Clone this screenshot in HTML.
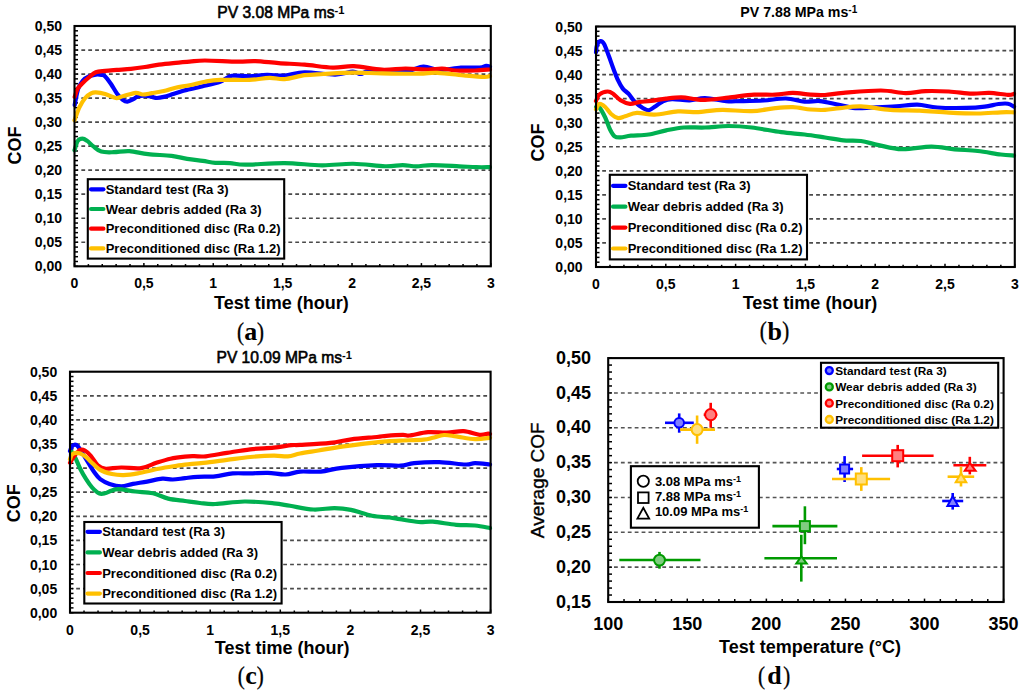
<!DOCTYPE html><html><head><meta charset="utf-8"><style>html,body{margin:0;padding:0;background:#fff;width:1024px;height:693px;overflow:hidden}svg{display:block}</style></head><body><svg width="1024" height="693" viewBox="0 0 1024 693">
<rect width="1024" height="693" fill="#fff"/>
<line x1="76.50" y1="242.27" x2="490.80" y2="242.27" stroke="#4a4a4a" stroke-width="1.7" stroke-dasharray="3.8 3.1" stroke-dashoffset="-4.85"/>
<line x1="76.50" y1="218.24" x2="490.80" y2="218.24" stroke="#4a4a4a" stroke-width="1.7" stroke-dasharray="3.8 3.1" stroke-dashoffset="-4.85"/>
<line x1="76.50" y1="194.21" x2="490.80" y2="194.21" stroke="#4a4a4a" stroke-width="1.7" stroke-dasharray="3.8 3.1" stroke-dashoffset="-4.85"/>
<line x1="76.50" y1="170.18" x2="490.80" y2="170.18" stroke="#4a4a4a" stroke-width="1.7" stroke-dasharray="3.8 3.1" stroke-dashoffset="-4.85"/>
<line x1="76.50" y1="146.15" x2="490.80" y2="146.15" stroke="#4a4a4a" stroke-width="1.7" stroke-dasharray="3.8 3.1" stroke-dashoffset="-4.85"/>
<line x1="76.50" y1="122.12" x2="490.80" y2="122.12" stroke="#4a4a4a" stroke-width="1.7" stroke-dasharray="3.8 3.1" stroke-dashoffset="-4.85"/>
<line x1="76.50" y1="98.09" x2="490.80" y2="98.09" stroke="#4a4a4a" stroke-width="1.7" stroke-dasharray="3.8 3.1" stroke-dashoffset="-4.85"/>
<line x1="76.50" y1="74.06" x2="490.80" y2="74.06" stroke="#4a4a4a" stroke-width="1.7" stroke-dasharray="3.8 3.1" stroke-dashoffset="-4.85"/>
<line x1="76.50" y1="50.03" x2="490.80" y2="50.03" stroke="#4a4a4a" stroke-width="1.7" stroke-dasharray="3.8 3.1" stroke-dashoffset="-4.85"/>
<line x1="74.50" y1="266.30" x2="78.00" y2="266.30" stroke="#000" stroke-width="1.5"/>
<line x1="74.50" y1="261.49" x2="78.00" y2="261.49" stroke="#000" stroke-width="1.5"/>
<line x1="74.50" y1="256.69" x2="78.00" y2="256.69" stroke="#000" stroke-width="1.5"/>
<line x1="74.50" y1="251.88" x2="78.00" y2="251.88" stroke="#000" stroke-width="1.5"/>
<line x1="74.50" y1="247.08" x2="78.00" y2="247.08" stroke="#000" stroke-width="1.5"/>
<line x1="74.50" y1="242.27" x2="78.00" y2="242.27" stroke="#000" stroke-width="1.5"/>
<line x1="74.50" y1="237.46" x2="78.00" y2="237.46" stroke="#000" stroke-width="1.5"/>
<line x1="74.50" y1="232.66" x2="78.00" y2="232.66" stroke="#000" stroke-width="1.5"/>
<line x1="74.50" y1="227.85" x2="78.00" y2="227.85" stroke="#000" stroke-width="1.5"/>
<line x1="74.50" y1="223.05" x2="78.00" y2="223.05" stroke="#000" stroke-width="1.5"/>
<line x1="74.50" y1="218.24" x2="78.00" y2="218.24" stroke="#000" stroke-width="1.5"/>
<line x1="74.50" y1="213.43" x2="78.00" y2="213.43" stroke="#000" stroke-width="1.5"/>
<line x1="74.50" y1="208.63" x2="78.00" y2="208.63" stroke="#000" stroke-width="1.5"/>
<line x1="74.50" y1="203.82" x2="78.00" y2="203.82" stroke="#000" stroke-width="1.5"/>
<line x1="74.50" y1="199.02" x2="78.00" y2="199.02" stroke="#000" stroke-width="1.5"/>
<line x1="74.50" y1="194.21" x2="78.00" y2="194.21" stroke="#000" stroke-width="1.5"/>
<line x1="74.50" y1="189.40" x2="78.00" y2="189.40" stroke="#000" stroke-width="1.5"/>
<line x1="74.50" y1="184.60" x2="78.00" y2="184.60" stroke="#000" stroke-width="1.5"/>
<line x1="74.50" y1="179.79" x2="78.00" y2="179.79" stroke="#000" stroke-width="1.5"/>
<line x1="74.50" y1="174.99" x2="78.00" y2="174.99" stroke="#000" stroke-width="1.5"/>
<line x1="74.50" y1="170.18" x2="78.00" y2="170.18" stroke="#000" stroke-width="1.5"/>
<line x1="74.50" y1="165.37" x2="78.00" y2="165.37" stroke="#000" stroke-width="1.5"/>
<line x1="74.50" y1="160.57" x2="78.00" y2="160.57" stroke="#000" stroke-width="1.5"/>
<line x1="74.50" y1="155.76" x2="78.00" y2="155.76" stroke="#000" stroke-width="1.5"/>
<line x1="74.50" y1="150.96" x2="78.00" y2="150.96" stroke="#000" stroke-width="1.5"/>
<line x1="74.50" y1="146.15" x2="78.00" y2="146.15" stroke="#000" stroke-width="1.5"/>
<line x1="74.50" y1="141.34" x2="78.00" y2="141.34" stroke="#000" stroke-width="1.5"/>
<line x1="74.50" y1="136.54" x2="78.00" y2="136.54" stroke="#000" stroke-width="1.5"/>
<line x1="74.50" y1="131.73" x2="78.00" y2="131.73" stroke="#000" stroke-width="1.5"/>
<line x1="74.50" y1="126.93" x2="78.00" y2="126.93" stroke="#000" stroke-width="1.5"/>
<line x1="74.50" y1="122.12" x2="78.00" y2="122.12" stroke="#000" stroke-width="1.5"/>
<line x1="74.50" y1="117.31" x2="78.00" y2="117.31" stroke="#000" stroke-width="1.5"/>
<line x1="74.50" y1="112.51" x2="78.00" y2="112.51" stroke="#000" stroke-width="1.5"/>
<line x1="74.50" y1="107.70" x2="78.00" y2="107.70" stroke="#000" stroke-width="1.5"/>
<line x1="74.50" y1="102.90" x2="78.00" y2="102.90" stroke="#000" stroke-width="1.5"/>
<line x1="74.50" y1="98.09" x2="78.00" y2="98.09" stroke="#000" stroke-width="1.5"/>
<line x1="74.50" y1="93.28" x2="78.00" y2="93.28" stroke="#000" stroke-width="1.5"/>
<line x1="74.50" y1="88.48" x2="78.00" y2="88.48" stroke="#000" stroke-width="1.5"/>
<line x1="74.50" y1="83.67" x2="78.00" y2="83.67" stroke="#000" stroke-width="1.5"/>
<line x1="74.50" y1="78.87" x2="78.00" y2="78.87" stroke="#000" stroke-width="1.5"/>
<line x1="74.50" y1="74.06" x2="78.00" y2="74.06" stroke="#000" stroke-width="1.5"/>
<line x1="74.50" y1="69.25" x2="78.00" y2="69.25" stroke="#000" stroke-width="1.5"/>
<line x1="74.50" y1="64.45" x2="78.00" y2="64.45" stroke="#000" stroke-width="1.5"/>
<line x1="74.50" y1="59.64" x2="78.00" y2="59.64" stroke="#000" stroke-width="1.5"/>
<line x1="74.50" y1="54.84" x2="78.00" y2="54.84" stroke="#000" stroke-width="1.5"/>
<line x1="74.50" y1="50.03" x2="78.00" y2="50.03" stroke="#000" stroke-width="1.5"/>
<line x1="74.50" y1="45.22" x2="78.00" y2="45.22" stroke="#000" stroke-width="1.5"/>
<line x1="74.50" y1="40.42" x2="78.00" y2="40.42" stroke="#000" stroke-width="1.5"/>
<line x1="74.50" y1="35.61" x2="78.00" y2="35.61" stroke="#000" stroke-width="1.5"/>
<line x1="74.50" y1="30.81" x2="78.00" y2="30.81" stroke="#000" stroke-width="1.5"/>
<line x1="74.50" y1="26.00" x2="78.00" y2="26.00" stroke="#000" stroke-width="1.5"/>
<line x1="74.50" y1="266.30" x2="74.50" y2="263.10" stroke="#000" stroke-width="1.5"/>
<line x1="88.38" y1="266.30" x2="88.38" y2="264.10" stroke="#000" stroke-width="1.5"/>
<line x1="102.25" y1="266.30" x2="102.25" y2="264.10" stroke="#000" stroke-width="1.5"/>
<line x1="116.13" y1="266.30" x2="116.13" y2="264.10" stroke="#000" stroke-width="1.5"/>
<line x1="130.01" y1="266.30" x2="130.01" y2="264.10" stroke="#000" stroke-width="1.5"/>
<line x1="143.88" y1="266.30" x2="143.88" y2="263.10" stroke="#000" stroke-width="1.5"/>
<line x1="157.76" y1="266.30" x2="157.76" y2="264.10" stroke="#000" stroke-width="1.5"/>
<line x1="171.64" y1="266.30" x2="171.64" y2="264.10" stroke="#000" stroke-width="1.5"/>
<line x1="185.51" y1="266.30" x2="185.51" y2="264.10" stroke="#000" stroke-width="1.5"/>
<line x1="199.39" y1="266.30" x2="199.39" y2="264.10" stroke="#000" stroke-width="1.5"/>
<line x1="213.27" y1="266.30" x2="213.27" y2="263.10" stroke="#000" stroke-width="1.5"/>
<line x1="227.14" y1="266.30" x2="227.14" y2="264.10" stroke="#000" stroke-width="1.5"/>
<line x1="241.02" y1="266.30" x2="241.02" y2="264.10" stroke="#000" stroke-width="1.5"/>
<line x1="254.90" y1="266.30" x2="254.90" y2="264.10" stroke="#000" stroke-width="1.5"/>
<line x1="268.77" y1="266.30" x2="268.77" y2="264.10" stroke="#000" stroke-width="1.5"/>
<line x1="282.65" y1="266.30" x2="282.65" y2="263.10" stroke="#000" stroke-width="1.5"/>
<line x1="296.53" y1="266.30" x2="296.53" y2="264.10" stroke="#000" stroke-width="1.5"/>
<line x1="310.40" y1="266.30" x2="310.40" y2="264.10" stroke="#000" stroke-width="1.5"/>
<line x1="324.28" y1="266.30" x2="324.28" y2="264.10" stroke="#000" stroke-width="1.5"/>
<line x1="338.16" y1="266.30" x2="338.16" y2="264.10" stroke="#000" stroke-width="1.5"/>
<line x1="352.03" y1="266.30" x2="352.03" y2="263.10" stroke="#000" stroke-width="1.5"/>
<line x1="365.91" y1="266.30" x2="365.91" y2="264.10" stroke="#000" stroke-width="1.5"/>
<line x1="379.79" y1="266.30" x2="379.79" y2="264.10" stroke="#000" stroke-width="1.5"/>
<line x1="393.66" y1="266.30" x2="393.66" y2="264.10" stroke="#000" stroke-width="1.5"/>
<line x1="407.54" y1="266.30" x2="407.54" y2="264.10" stroke="#000" stroke-width="1.5"/>
<line x1="421.42" y1="266.30" x2="421.42" y2="263.10" stroke="#000" stroke-width="1.5"/>
<line x1="435.29" y1="266.30" x2="435.29" y2="264.10" stroke="#000" stroke-width="1.5"/>
<line x1="449.17" y1="266.30" x2="449.17" y2="264.10" stroke="#000" stroke-width="1.5"/>
<line x1="463.05" y1="266.30" x2="463.05" y2="264.10" stroke="#000" stroke-width="1.5"/>
<line x1="476.92" y1="266.30" x2="476.92" y2="264.10" stroke="#000" stroke-width="1.5"/>
<line x1="490.80" y1="266.30" x2="490.80" y2="263.10" stroke="#000" stroke-width="1.5"/>
<path d="M74.70,105.00 C75.28,102.28 76.83,92.78 78.20,88.70 C79.57,84.62 81.13,82.55 82.90,80.50 C84.67,78.45 86.65,77.38 88.80,76.40 C90.95,75.42 93.67,74.85 95.80,74.60 C97.93,74.35 100.03,74.60 101.60,74.90 C103.17,75.20 103.63,74.88 105.20,76.40 C106.77,77.92 109.05,81.17 111.00,84.00 C112.95,86.83 114.93,90.77 116.90,93.40 C118.87,96.03 121.05,98.43 122.80,99.80 C124.55,101.17 125.65,101.70 127.40,101.60 C129.15,101.50 131.53,100.08 133.30,99.20 C135.07,98.32 136.05,96.88 138.00,96.30 C139.95,95.72 142.67,95.60 145.00,95.70 C147.33,95.80 150.03,96.52 152.00,96.90 C153.97,97.28 154.83,98.00 156.80,98.00 C158.77,98.00 161.07,97.57 163.80,96.90 C166.53,96.23 170.08,94.98 173.20,94.00 C176.32,93.02 179.77,91.78 182.50,91.00 C185.23,90.22 186.25,90.08 189.60,89.30 C192.95,88.52 197.50,87.57 202.60,86.30 C207.70,85.03 215.32,83.45 220.20,81.70 C225.08,79.95 227.02,76.68 231.90,75.80 C236.78,74.92 243.65,76.55 249.50,76.40 C255.35,76.25 261.15,75.03 267.00,74.90 C272.85,74.77 278.33,76.03 284.60,75.60 C290.87,75.17 296.17,72.47 304.60,72.30 C313.03,72.13 327.17,74.70 335.20,74.60 C343.23,74.50 348.50,71.80 352.80,71.70 C357.10,71.60 358.08,74.20 361.00,74.00 C363.92,73.80 362.88,70.98 370.30,70.50 C377.72,70.02 396.65,71.73 405.50,71.10 C414.35,70.47 417.75,66.88 423.40,66.70 C429.05,66.52 433.15,69.85 439.40,70.00 C445.65,70.15 454.18,68.00 460.90,67.60 C467.62,67.20 475.48,67.90 479.70,67.60 C483.92,67.30 484.48,65.95 486.20,65.80 C487.92,65.65 489.37,66.55 490.00,66.70" fill="none" stroke="#0000ff" stroke-width="4.20" stroke-linecap="round" stroke-linejoin="round"/>
<path d="M74.50,150.30 C75.05,148.73 76.47,142.85 77.80,140.90 C79.13,138.95 80.93,138.60 82.50,138.60 C84.07,138.60 85.38,139.60 87.20,140.90 C89.02,142.20 91.06,144.62 93.40,146.40 C95.74,148.18 97.86,150.63 101.25,151.60 C104.64,152.57 109.06,152.28 113.75,152.20 C118.44,152.12 123.68,150.77 129.40,151.10 C135.12,151.43 141.07,153.42 148.10,154.20 C155.13,154.98 165.08,155.02 171.60,155.80 C178.12,156.58 182.00,158.05 187.20,158.90 C192.40,159.75 198.12,160.25 202.80,160.90 C207.48,161.55 210.77,162.43 215.30,162.80 C219.83,163.17 225.00,162.78 230.00,163.10 C235.00,163.42 236.23,164.70 245.30,164.70 C254.37,164.70 271.63,163.00 284.40,163.10 C297.17,163.20 310.45,165.19 321.90,165.30 C333.35,165.41 342.58,163.59 353.10,163.75 C363.62,163.91 376.75,166.03 385.00,166.25 C393.25,166.47 397.40,165.09 402.60,165.10 C407.80,165.11 411.28,166.30 416.20,166.30 C421.12,166.30 424.92,165.10 432.10,165.10 C439.28,165.10 451.93,165.95 459.30,166.30 C466.67,166.65 471.18,167.05 476.30,167.20 C481.42,167.35 487.72,167.20 490.00,167.20" fill="none" stroke="#00b050" stroke-width="4.20" stroke-linecap="round" stroke-linejoin="round"/>
<path d="M74.70,96.90 C75.17,95.58 76.33,91.15 77.50,89.00 C78.67,86.85 79.82,85.92 81.70,84.00 C83.58,82.08 86.45,79.45 88.80,77.50 C91.15,75.55 93.07,73.40 95.80,72.30 C98.53,71.20 101.68,71.30 105.20,70.90 C108.72,70.50 112.60,70.25 116.90,69.90 C121.20,69.55 126.32,69.28 131.00,68.80 C135.68,68.32 140.33,67.68 145.00,67.00 C149.67,66.32 154.30,65.35 159.00,64.70 C163.70,64.05 168.10,63.60 173.20,63.10 C178.30,62.60 184.32,62.13 189.60,61.70 C194.88,61.27 196.88,60.50 204.90,60.50 C212.92,60.50 229.30,61.60 237.70,61.70 C246.10,61.80 248.45,60.87 255.30,61.10 C262.15,61.33 270.58,62.50 278.80,63.10 C287.02,63.70 295.60,63.95 304.60,64.70 C313.60,65.45 324.58,67.35 332.80,67.60 C341.02,67.85 345.70,65.85 353.90,66.20 C362.10,66.55 373.40,69.32 382.00,69.70 C390.60,70.08 397.82,68.53 405.50,68.50 C413.18,68.47 421.98,69.48 428.10,69.50 C434.22,69.52 437.52,68.43 442.20,68.60 C446.88,68.77 450.73,70.18 456.20,70.50 C461.67,70.82 469.37,70.67 475.00,70.50 C480.63,70.33 487.50,69.67 490.00,69.50" fill="none" stroke="#ff0000" stroke-width="4.20" stroke-linecap="round" stroke-linejoin="round"/>
<path d="M74.50,120.30 C75.32,118.15 77.62,111.12 79.40,107.40 C81.18,103.68 83.25,100.33 85.20,98.00 C87.15,95.67 89.33,94.33 91.10,93.40 C92.87,92.47 93.45,92.30 95.80,92.40 C98.15,92.50 101.88,93.07 105.20,94.00 C108.52,94.93 112.77,97.62 115.70,98.00 C118.63,98.38 119.48,97.17 122.80,96.30 C126.12,95.43 132.28,93.10 135.60,92.80 C138.92,92.50 139.97,94.45 142.70,94.50 C145.43,94.55 148.48,93.68 152.00,93.10 C155.52,92.52 159.88,91.90 163.80,91.00 C167.72,90.10 171.20,88.67 175.50,87.70 C179.80,86.73 184.70,86.20 189.60,85.20 C194.50,84.20 199.80,82.58 204.90,81.70 C210.00,80.82 212.77,80.20 220.20,79.90 C227.63,79.60 241.30,80.23 249.50,79.90 C257.70,79.57 263.55,78.03 269.40,77.90 C275.25,77.77 278.73,79.55 284.60,79.10 C290.47,78.65 298.13,76.05 304.60,75.20 C311.07,74.35 315.37,74.43 323.40,74.00 C331.43,73.57 343.03,72.70 352.80,72.60 C362.57,72.50 371.02,73.22 382.00,73.40 C392.98,73.58 409.45,73.80 418.70,73.70 C427.95,73.60 429.68,72.48 437.50,72.80 C445.32,73.12 457.80,74.90 465.60,75.60 C473.40,76.30 480.23,76.92 484.30,77.00 C488.37,77.08 489.05,76.25 490.00,76.10" fill="none" stroke="#ffc000" stroke-width="4.20" stroke-linecap="round" stroke-linejoin="round"/>
<rect x="74.50" y="26.00" width="416.30" height="240.30" fill="none" stroke="#000" stroke-width="2.1"/>
<text x="62.00" y="271.30" font-family='"Liberation Sans", sans-serif' font-size="14.00" font-weight="bold" text-anchor="end" >0,00</text>
<text x="62.00" y="247.27" font-family='"Liberation Sans", sans-serif' font-size="14.00" font-weight="bold" text-anchor="end" >0,05</text>
<text x="62.00" y="223.24" font-family='"Liberation Sans", sans-serif' font-size="14.00" font-weight="bold" text-anchor="end" >0,10</text>
<text x="62.00" y="199.21" font-family='"Liberation Sans", sans-serif' font-size="14.00" font-weight="bold" text-anchor="end" >0,15</text>
<text x="62.00" y="175.18" font-family='"Liberation Sans", sans-serif' font-size="14.00" font-weight="bold" text-anchor="end" >0,20</text>
<text x="62.00" y="151.15" font-family='"Liberation Sans", sans-serif' font-size="14.00" font-weight="bold" text-anchor="end" >0,25</text>
<text x="62.00" y="127.12" font-family='"Liberation Sans", sans-serif' font-size="14.00" font-weight="bold" text-anchor="end" >0,30</text>
<text x="62.00" y="103.09" font-family='"Liberation Sans", sans-serif' font-size="14.00" font-weight="bold" text-anchor="end" >0,35</text>
<text x="62.00" y="79.06" font-family='"Liberation Sans", sans-serif' font-size="14.00" font-weight="bold" text-anchor="end" >0,40</text>
<text x="62.00" y="55.03" font-family='"Liberation Sans", sans-serif' font-size="14.00" font-weight="bold" text-anchor="end" >0,45</text>
<text x="62.00" y="31.00" font-family='"Liberation Sans", sans-serif' font-size="14.00" font-weight="bold" text-anchor="end" >0,50</text>
<text x="74.50" y="288.20" font-family='"Liberation Sans", sans-serif' font-size="14.00" font-weight="bold" text-anchor="middle" >0</text>
<text x="143.88" y="288.20" font-family='"Liberation Sans", sans-serif' font-size="14.00" font-weight="bold" text-anchor="middle" >0,5</text>
<text x="213.27" y="288.20" font-family='"Liberation Sans", sans-serif' font-size="14.00" font-weight="bold" text-anchor="middle" >1</text>
<text x="282.65" y="288.20" font-family='"Liberation Sans", sans-serif' font-size="14.00" font-weight="bold" text-anchor="middle" >1,5</text>
<text x="352.03" y="288.20" font-family='"Liberation Sans", sans-serif' font-size="14.00" font-weight="bold" text-anchor="middle" >2</text>
<text x="421.42" y="288.20" font-family='"Liberation Sans", sans-serif' font-size="14.00" font-weight="bold" text-anchor="middle" >2,5</text>
<text x="490.80" y="288.20" font-family='"Liberation Sans", sans-serif' font-size="14.00" font-weight="bold" text-anchor="middle" >3</text>
<rect x="87.80" y="179.20" width="196.40" height="79.40" fill="#fff" stroke="#000" stroke-width="2.1"/>
<line x1="91.00" y1="189.30" x2="103.40" y2="189.30" stroke="#0000ff" stroke-width="4.2" stroke-linecap="round"/>
<text x="105.70" y="193.90" font-family='"Liberation Sans", sans-serif' font-size="13.00" font-weight="bold" text-anchor="start" >Standard test (Ra 3)</text>
<line x1="91.00" y1="209.00" x2="103.40" y2="209.00" stroke="#00b050" stroke-width="4.2" stroke-linecap="round"/>
<text x="105.70" y="213.60" font-family='"Liberation Sans", sans-serif' font-size="13.00" font-weight="bold" text-anchor="start" >Wear debris added (Ra 3)</text>
<line x1="91.00" y1="228.70" x2="103.40" y2="228.70" stroke="#ff0000" stroke-width="4.2" stroke-linecap="round"/>
<text x="105.70" y="233.30" font-family='"Liberation Sans", sans-serif' font-size="13.00" font-weight="bold" text-anchor="start" >Preconditioned disc (Ra 0.2)</text>
<line x1="91.00" y1="248.40" x2="103.40" y2="248.40" stroke="#ffc000" stroke-width="4.2" stroke-linecap="round"/>
<text x="105.70" y="253.00" font-family='"Liberation Sans", sans-serif' font-size="13.00" font-weight="bold" text-anchor="start" >Preconditioned disc (Ra 1.2)</text>
<text transform="translate(217.2 17.9) scale(0.972 1)" font-family='"Liberation Sans", sans-serif' font-size="16.1" font-weight="normal" stroke="#000" stroke-width="0.6">PV 3.08 MPa ms<tspan font-size="11.5" font-weight="bold" dy="-4.4" stroke-width="0">-1</tspan></text>
<text x="214.00" y="309.20" font-family='"Liberation Sans", sans-serif' font-size="18.00" font-weight="bold" text-anchor="start" >Test time (hour)</text>
<text x="21.4" y="145.6" transform="rotate(-90 21.4 145.6)" font-family='"Liberation Sans", sans-serif' font-size="18" font-weight="bold" text-anchor="middle">COF</text>
<text transform="translate(236.90 339.60) scale(0.82 1)" font-family='"Liberation Serif", serif' font-size="25.6" stroke="#000" stroke-width="0.35">(</text>
<text transform="translate(264.00 339.60) scale(0.82 1)" font-family='"Liberation Serif", serif' font-size="25.6" text-anchor="end" stroke="#000" stroke-width="0.35">)</text>
<text x="250.65" y="339.80" font-family='"Liberation Serif", serif' font-size="26" font-weight="bold" text-anchor="middle">a</text>
<line x1="598.00" y1="242.95" x2="1014.80" y2="242.95" stroke="#4a4a4a" stroke-width="1.7" stroke-dasharray="3.8 3.1" stroke-dashoffset="-4.20"/>
<line x1="598.00" y1="218.90" x2="1014.80" y2="218.90" stroke="#4a4a4a" stroke-width="1.7" stroke-dasharray="3.8 3.1" stroke-dashoffset="-4.20"/>
<line x1="598.00" y1="194.85" x2="1014.80" y2="194.85" stroke="#4a4a4a" stroke-width="1.7" stroke-dasharray="3.8 3.1" stroke-dashoffset="-4.20"/>
<line x1="598.00" y1="170.80" x2="1014.80" y2="170.80" stroke="#4a4a4a" stroke-width="1.7" stroke-dasharray="3.8 3.1" stroke-dashoffset="-4.20"/>
<line x1="598.00" y1="146.75" x2="1014.80" y2="146.75" stroke="#4a4a4a" stroke-width="1.7" stroke-dasharray="3.8 3.1" stroke-dashoffset="-4.20"/>
<line x1="598.00" y1="122.70" x2="1014.80" y2="122.70" stroke="#4a4a4a" stroke-width="1.7" stroke-dasharray="3.8 3.1" stroke-dashoffset="-4.20"/>
<line x1="598.00" y1="98.65" x2="1014.80" y2="98.65" stroke="#4a4a4a" stroke-width="1.7" stroke-dasharray="3.8 3.1" stroke-dashoffset="-4.20"/>
<line x1="598.00" y1="74.60" x2="1014.80" y2="74.60" stroke="#4a4a4a" stroke-width="1.7" stroke-dasharray="3.8 3.1" stroke-dashoffset="-4.20"/>
<line x1="598.00" y1="50.55" x2="1014.80" y2="50.55" stroke="#4a4a4a" stroke-width="1.7" stroke-dasharray="3.8 3.1" stroke-dashoffset="-4.20"/>
<line x1="596.00" y1="267.00" x2="599.50" y2="267.00" stroke="#000" stroke-width="1.5"/>
<line x1="596.00" y1="262.19" x2="599.50" y2="262.19" stroke="#000" stroke-width="1.5"/>
<line x1="596.00" y1="257.38" x2="599.50" y2="257.38" stroke="#000" stroke-width="1.5"/>
<line x1="596.00" y1="252.57" x2="599.50" y2="252.57" stroke="#000" stroke-width="1.5"/>
<line x1="596.00" y1="247.76" x2="599.50" y2="247.76" stroke="#000" stroke-width="1.5"/>
<line x1="596.00" y1="242.95" x2="599.50" y2="242.95" stroke="#000" stroke-width="1.5"/>
<line x1="596.00" y1="238.14" x2="599.50" y2="238.14" stroke="#000" stroke-width="1.5"/>
<line x1="596.00" y1="233.33" x2="599.50" y2="233.33" stroke="#000" stroke-width="1.5"/>
<line x1="596.00" y1="228.52" x2="599.50" y2="228.52" stroke="#000" stroke-width="1.5"/>
<line x1="596.00" y1="223.71" x2="599.50" y2="223.71" stroke="#000" stroke-width="1.5"/>
<line x1="596.00" y1="218.90" x2="599.50" y2="218.90" stroke="#000" stroke-width="1.5"/>
<line x1="596.00" y1="214.09" x2="599.50" y2="214.09" stroke="#000" stroke-width="1.5"/>
<line x1="596.00" y1="209.28" x2="599.50" y2="209.28" stroke="#000" stroke-width="1.5"/>
<line x1="596.00" y1="204.47" x2="599.50" y2="204.47" stroke="#000" stroke-width="1.5"/>
<line x1="596.00" y1="199.66" x2="599.50" y2="199.66" stroke="#000" stroke-width="1.5"/>
<line x1="596.00" y1="194.85" x2="599.50" y2="194.85" stroke="#000" stroke-width="1.5"/>
<line x1="596.00" y1="190.04" x2="599.50" y2="190.04" stroke="#000" stroke-width="1.5"/>
<line x1="596.00" y1="185.23" x2="599.50" y2="185.23" stroke="#000" stroke-width="1.5"/>
<line x1="596.00" y1="180.42" x2="599.50" y2="180.42" stroke="#000" stroke-width="1.5"/>
<line x1="596.00" y1="175.61" x2="599.50" y2="175.61" stroke="#000" stroke-width="1.5"/>
<line x1="596.00" y1="170.80" x2="599.50" y2="170.80" stroke="#000" stroke-width="1.5"/>
<line x1="596.00" y1="165.99" x2="599.50" y2="165.99" stroke="#000" stroke-width="1.5"/>
<line x1="596.00" y1="161.18" x2="599.50" y2="161.18" stroke="#000" stroke-width="1.5"/>
<line x1="596.00" y1="156.37" x2="599.50" y2="156.37" stroke="#000" stroke-width="1.5"/>
<line x1="596.00" y1="151.56" x2="599.50" y2="151.56" stroke="#000" stroke-width="1.5"/>
<line x1="596.00" y1="146.75" x2="599.50" y2="146.75" stroke="#000" stroke-width="1.5"/>
<line x1="596.00" y1="141.94" x2="599.50" y2="141.94" stroke="#000" stroke-width="1.5"/>
<line x1="596.00" y1="137.13" x2="599.50" y2="137.13" stroke="#000" stroke-width="1.5"/>
<line x1="596.00" y1="132.32" x2="599.50" y2="132.32" stroke="#000" stroke-width="1.5"/>
<line x1="596.00" y1="127.51" x2="599.50" y2="127.51" stroke="#000" stroke-width="1.5"/>
<line x1="596.00" y1="122.70" x2="599.50" y2="122.70" stroke="#000" stroke-width="1.5"/>
<line x1="596.00" y1="117.89" x2="599.50" y2="117.89" stroke="#000" stroke-width="1.5"/>
<line x1="596.00" y1="113.08" x2="599.50" y2="113.08" stroke="#000" stroke-width="1.5"/>
<line x1="596.00" y1="108.27" x2="599.50" y2="108.27" stroke="#000" stroke-width="1.5"/>
<line x1="596.00" y1="103.46" x2="599.50" y2="103.46" stroke="#000" stroke-width="1.5"/>
<line x1="596.00" y1="98.65" x2="599.50" y2="98.65" stroke="#000" stroke-width="1.5"/>
<line x1="596.00" y1="93.84" x2="599.50" y2="93.84" stroke="#000" stroke-width="1.5"/>
<line x1="596.00" y1="89.03" x2="599.50" y2="89.03" stroke="#000" stroke-width="1.5"/>
<line x1="596.00" y1="84.22" x2="599.50" y2="84.22" stroke="#000" stroke-width="1.5"/>
<line x1="596.00" y1="79.41" x2="599.50" y2="79.41" stroke="#000" stroke-width="1.5"/>
<line x1="596.00" y1="74.60" x2="599.50" y2="74.60" stroke="#000" stroke-width="1.5"/>
<line x1="596.00" y1="69.79" x2="599.50" y2="69.79" stroke="#000" stroke-width="1.5"/>
<line x1="596.00" y1="64.98" x2="599.50" y2="64.98" stroke="#000" stroke-width="1.5"/>
<line x1="596.00" y1="60.17" x2="599.50" y2="60.17" stroke="#000" stroke-width="1.5"/>
<line x1="596.00" y1="55.36" x2="599.50" y2="55.36" stroke="#000" stroke-width="1.5"/>
<line x1="596.00" y1="50.55" x2="599.50" y2="50.55" stroke="#000" stroke-width="1.5"/>
<line x1="596.00" y1="45.74" x2="599.50" y2="45.74" stroke="#000" stroke-width="1.5"/>
<line x1="596.00" y1="40.93" x2="599.50" y2="40.93" stroke="#000" stroke-width="1.5"/>
<line x1="596.00" y1="36.12" x2="599.50" y2="36.12" stroke="#000" stroke-width="1.5"/>
<line x1="596.00" y1="31.31" x2="599.50" y2="31.31" stroke="#000" stroke-width="1.5"/>
<line x1="596.00" y1="26.50" x2="599.50" y2="26.50" stroke="#000" stroke-width="1.5"/>
<line x1="596.00" y1="267.00" x2="596.00" y2="263.80" stroke="#000" stroke-width="1.5"/>
<line x1="609.96" y1="267.00" x2="609.96" y2="264.80" stroke="#000" stroke-width="1.5"/>
<line x1="623.92" y1="267.00" x2="623.92" y2="264.80" stroke="#000" stroke-width="1.5"/>
<line x1="637.88" y1="267.00" x2="637.88" y2="264.80" stroke="#000" stroke-width="1.5"/>
<line x1="651.84" y1="267.00" x2="651.84" y2="264.80" stroke="#000" stroke-width="1.5"/>
<line x1="665.80" y1="267.00" x2="665.80" y2="263.80" stroke="#000" stroke-width="1.5"/>
<line x1="679.76" y1="267.00" x2="679.76" y2="264.80" stroke="#000" stroke-width="1.5"/>
<line x1="693.72" y1="267.00" x2="693.72" y2="264.80" stroke="#000" stroke-width="1.5"/>
<line x1="707.68" y1="267.00" x2="707.68" y2="264.80" stroke="#000" stroke-width="1.5"/>
<line x1="721.64" y1="267.00" x2="721.64" y2="264.80" stroke="#000" stroke-width="1.5"/>
<line x1="735.60" y1="267.00" x2="735.60" y2="263.80" stroke="#000" stroke-width="1.5"/>
<line x1="749.56" y1="267.00" x2="749.56" y2="264.80" stroke="#000" stroke-width="1.5"/>
<line x1="763.52" y1="267.00" x2="763.52" y2="264.80" stroke="#000" stroke-width="1.5"/>
<line x1="777.48" y1="267.00" x2="777.48" y2="264.80" stroke="#000" stroke-width="1.5"/>
<line x1="791.44" y1="267.00" x2="791.44" y2="264.80" stroke="#000" stroke-width="1.5"/>
<line x1="805.40" y1="267.00" x2="805.40" y2="263.80" stroke="#000" stroke-width="1.5"/>
<line x1="819.36" y1="267.00" x2="819.36" y2="264.80" stroke="#000" stroke-width="1.5"/>
<line x1="833.32" y1="267.00" x2="833.32" y2="264.80" stroke="#000" stroke-width="1.5"/>
<line x1="847.28" y1="267.00" x2="847.28" y2="264.80" stroke="#000" stroke-width="1.5"/>
<line x1="861.24" y1="267.00" x2="861.24" y2="264.80" stroke="#000" stroke-width="1.5"/>
<line x1="875.20" y1="267.00" x2="875.20" y2="263.80" stroke="#000" stroke-width="1.5"/>
<line x1="889.16" y1="267.00" x2="889.16" y2="264.80" stroke="#000" stroke-width="1.5"/>
<line x1="903.12" y1="267.00" x2="903.12" y2="264.80" stroke="#000" stroke-width="1.5"/>
<line x1="917.08" y1="267.00" x2="917.08" y2="264.80" stroke="#000" stroke-width="1.5"/>
<line x1="931.04" y1="267.00" x2="931.04" y2="264.80" stroke="#000" stroke-width="1.5"/>
<line x1="945.00" y1="267.00" x2="945.00" y2="263.80" stroke="#000" stroke-width="1.5"/>
<line x1="958.96" y1="267.00" x2="958.96" y2="264.80" stroke="#000" stroke-width="1.5"/>
<line x1="972.92" y1="267.00" x2="972.92" y2="264.80" stroke="#000" stroke-width="1.5"/>
<line x1="986.88" y1="267.00" x2="986.88" y2="264.80" stroke="#000" stroke-width="1.5"/>
<line x1="1000.84" y1="267.00" x2="1000.84" y2="264.80" stroke="#000" stroke-width="1.5"/>
<line x1="1014.80" y1="267.00" x2="1014.80" y2="263.80" stroke="#000" stroke-width="1.5"/>
<path d="M596.00,52.30 C596.17,51.12 596.25,47.07 597.00,45.20 C597.75,43.33 599.32,41.28 600.50,41.10 C601.68,40.92 602.73,41.65 604.10,44.10 C605.48,46.55 607.20,51.70 608.75,55.80 C610.30,59.90 611.84,64.60 613.40,68.70 C614.96,72.80 616.53,77.08 618.10,80.40 C619.67,83.72 621.03,86.35 622.80,88.60 C624.57,90.85 626.75,91.75 628.70,93.90 C630.65,96.05 632.15,99.15 634.50,101.50 C636.85,103.85 640.45,106.53 642.80,108.00 C645.15,109.47 646.47,110.60 648.60,110.30 C650.73,110.00 653.25,107.67 655.60,106.20 C657.95,104.73 659.97,102.67 662.70,101.50 C665.43,100.33 667.52,99.40 672.00,99.20 C676.48,99.00 684.10,100.47 689.60,100.30 C695.10,100.13 698.92,98.07 705.00,98.20 C711.08,98.33 720.23,100.62 726.10,101.10 C731.97,101.58 733.95,101.20 740.20,101.10 C746.45,101.00 755.98,100.93 763.60,100.50 C771.22,100.07 779.07,98.30 785.90,98.50 C792.73,98.70 798.92,101.27 804.60,101.70 C810.28,102.13 814.50,100.62 820.00,101.10 C825.50,101.58 831.73,103.43 837.60,104.60 C843.47,105.77 849.33,107.62 855.20,108.10 C861.07,108.58 865.97,107.78 872.80,107.50 C879.63,107.22 888.78,106.88 896.20,106.40 C903.62,105.92 910.45,104.42 917.30,104.60 C924.15,104.78 929.15,106.95 937.30,107.50 C945.45,108.05 958.30,108.05 966.20,107.90 C974.10,107.75 979.32,107.25 984.70,106.60 C990.08,105.95 994.65,104.48 998.50,104.00 C1002.35,103.52 1005.22,103.27 1007.80,103.70 C1010.38,104.13 1012.97,106.12 1014.00,106.60" fill="none" stroke="#0000ff" stroke-width="4.20" stroke-linecap="round" stroke-linejoin="round"/>
<path d="M596.00,107.00 C596.57,107.08 597.87,105.75 599.40,107.50 C600.93,109.25 603.45,113.88 605.20,117.50 C606.95,121.12 608.33,126.07 609.90,129.20 C611.47,132.33 612.83,134.93 614.60,136.30 C616.37,137.67 617.77,137.50 620.50,137.40 C623.23,137.30 626.32,136.18 631.00,135.70 C635.68,135.22 642.73,135.38 648.60,134.50 C654.47,133.62 660.33,131.57 666.20,130.40 C672.07,129.23 677.33,127.98 683.80,127.50 C690.27,127.02 697.57,127.75 705.00,127.50 C712.43,127.25 720.58,126.00 728.40,126.00 C736.22,126.00 743.10,126.47 751.90,127.50 C760.70,128.53 772.42,131.03 781.20,132.20 C789.98,133.37 797.30,133.62 804.60,134.50 C811.90,135.38 818.53,136.52 825.00,137.50 C831.47,138.48 837.40,139.82 843.40,140.40 C849.40,140.98 855.13,140.22 861.00,141.00 C866.87,141.78 871.75,143.73 878.60,145.10 C885.45,146.47 893.28,148.93 902.10,149.20 C910.92,149.47 922.75,146.68 931.50,146.70 C940.25,146.72 946.90,148.58 954.60,149.30 C962.30,150.02 970.00,150.13 977.70,151.00 C985.40,151.87 994.75,153.73 1000.80,154.50 C1006.85,155.27 1011.80,155.42 1014.00,155.60" fill="none" stroke="#00b050" stroke-width="4.20" stroke-linecap="round" stroke-linejoin="round"/>
<path d="M596.00,101.00 C596.57,99.92 597.47,96.08 599.40,94.50 C601.33,92.92 605.27,91.60 607.60,91.50 C609.93,91.40 611.25,92.43 613.40,93.90 C615.55,95.37 617.75,98.63 620.50,100.30 C623.25,101.97 626.78,103.60 629.90,103.90 C633.02,104.20 635.68,102.60 639.20,102.10 C642.72,101.60 646.50,101.48 651.00,100.90 C655.50,100.32 661.13,99.18 666.20,98.60 C671.27,98.02 676.52,97.30 681.40,97.40 C686.28,97.50 691.57,98.78 695.50,99.20 C699.43,99.62 699.52,100.17 705.00,99.90 C710.48,99.63 720.20,98.47 728.40,97.60 C736.60,96.73 746.38,95.18 754.20,94.70 C762.02,94.22 768.85,95.00 775.30,94.70 C781.75,94.40 787.03,92.90 792.90,92.90 C798.77,92.90 805.15,94.35 810.50,94.70 C815.85,95.05 819.52,95.30 825.00,95.00 C830.48,94.70 834.08,93.65 843.40,92.90 C852.72,92.15 870.53,90.47 880.90,90.50 C891.27,90.53 898.17,93.00 905.60,93.10 C913.03,93.20 918.28,91.37 925.50,91.10 C932.72,90.83 941.15,91.08 948.90,91.50 C956.65,91.92 965.27,93.37 972.00,93.60 C978.73,93.83 983.33,92.70 989.30,92.90 C995.27,93.10 1003.68,94.63 1007.80,94.80 C1011.92,94.97 1012.97,94.05 1014.00,93.90" fill="none" stroke="#ff0000" stroke-width="4.20" stroke-linecap="round" stroke-linejoin="round"/>
<path d="M596.00,109.30 C596.57,108.42 597.87,104.38 599.40,104.00 C600.93,103.62 603.25,105.33 605.20,107.00 C607.15,108.67 608.95,112.15 611.10,114.00 C613.25,115.85 615.75,117.72 618.10,118.10 C620.45,118.48 622.07,117.18 625.20,116.30 C628.33,115.42 632.02,113.08 636.90,112.80 C641.78,112.52 647.67,114.83 654.50,114.60 C661.33,114.37 671.07,111.80 677.90,111.40 C684.73,111.00 690.98,112.20 695.50,112.20 C700.02,112.20 700.48,111.78 705.00,111.40 C709.52,111.02 714.78,109.95 722.60,109.90 C730.42,109.85 743.12,111.40 751.90,111.10 C760.68,110.80 768.47,108.75 775.30,108.10 C782.13,107.45 787.03,106.97 792.90,107.20 C798.77,107.43 805.15,109.05 810.50,109.50 C815.85,109.95 820.10,110.13 825.00,109.90 C829.90,109.67 833.90,108.68 839.90,108.10 C845.90,107.52 852.60,106.10 861.00,106.40 C869.40,106.70 880.53,109.18 890.30,109.90 C900.07,110.62 909.83,110.25 919.60,110.70 C929.37,111.15 939.22,112.13 948.90,112.60 C958.58,113.07 969.05,113.55 977.70,113.50 C986.35,113.45 994.75,112.50 1000.80,112.30 C1006.85,112.10 1011.80,112.30 1014.00,112.30" fill="none" stroke="#ffc000" stroke-width="4.20" stroke-linecap="round" stroke-linejoin="round"/>
<rect x="596.00" y="26.50" width="418.80" height="240.50" fill="none" stroke="#000" stroke-width="2.1"/>
<text x="582.60" y="272.00" font-family='"Liberation Sans", sans-serif' font-size="14.00" font-weight="bold" text-anchor="end" >0,00</text>
<text x="582.60" y="247.95" font-family='"Liberation Sans", sans-serif' font-size="14.00" font-weight="bold" text-anchor="end" >0,05</text>
<text x="582.60" y="223.90" font-family='"Liberation Sans", sans-serif' font-size="14.00" font-weight="bold" text-anchor="end" >0,10</text>
<text x="582.60" y="199.85" font-family='"Liberation Sans", sans-serif' font-size="14.00" font-weight="bold" text-anchor="end" >0,15</text>
<text x="582.60" y="175.80" font-family='"Liberation Sans", sans-serif' font-size="14.00" font-weight="bold" text-anchor="end" >0,20</text>
<text x="582.60" y="151.75" font-family='"Liberation Sans", sans-serif' font-size="14.00" font-weight="bold" text-anchor="end" >0,25</text>
<text x="582.60" y="127.70" font-family='"Liberation Sans", sans-serif' font-size="14.00" font-weight="bold" text-anchor="end" >0,30</text>
<text x="582.60" y="103.65" font-family='"Liberation Sans", sans-serif' font-size="14.00" font-weight="bold" text-anchor="end" >0,35</text>
<text x="582.60" y="79.60" font-family='"Liberation Sans", sans-serif' font-size="14.00" font-weight="bold" text-anchor="end" >0,40</text>
<text x="582.60" y="55.55" font-family='"Liberation Sans", sans-serif' font-size="14.00" font-weight="bold" text-anchor="end" >0,45</text>
<text x="582.60" y="31.50" font-family='"Liberation Sans", sans-serif' font-size="14.00" font-weight="bold" text-anchor="end" >0,50</text>
<text x="596.00" y="289.40" font-family='"Liberation Sans", sans-serif' font-size="14.00" font-weight="bold" text-anchor="middle" >0</text>
<text x="665.80" y="289.40" font-family='"Liberation Sans", sans-serif' font-size="14.00" font-weight="bold" text-anchor="middle" >0,5</text>
<text x="735.60" y="289.40" font-family='"Liberation Sans", sans-serif' font-size="14.00" font-weight="bold" text-anchor="middle" >1</text>
<text x="805.40" y="289.40" font-family='"Liberation Sans", sans-serif' font-size="14.00" font-weight="bold" text-anchor="middle" >1,5</text>
<text x="875.20" y="289.40" font-family='"Liberation Sans", sans-serif' font-size="14.00" font-weight="bold" text-anchor="middle" >2</text>
<text x="945.00" y="289.40" font-family='"Liberation Sans", sans-serif' font-size="14.00" font-weight="bold" text-anchor="middle" >2,5</text>
<text x="1014.80" y="289.40" font-family='"Liberation Sans", sans-serif' font-size="14.00" font-weight="bold" text-anchor="middle" >3</text>
<rect x="609.80" y="174.80" width="197.20" height="84.60" fill="#fff" stroke="#000" stroke-width="2.1"/>
<line x1="613.00" y1="185.80" x2="625.40" y2="185.80" stroke="#0000ff" stroke-width="4.2" stroke-linecap="round"/>
<text x="627.70" y="190.40" font-family='"Liberation Sans", sans-serif' font-size="13.00" font-weight="bold" text-anchor="start" >Standard test (Ra 3)</text>
<line x1="613.00" y1="206.70" x2="625.40" y2="206.70" stroke="#00b050" stroke-width="4.2" stroke-linecap="round"/>
<text x="627.70" y="211.30" font-family='"Liberation Sans", sans-serif' font-size="13.00" font-weight="bold" text-anchor="start" >Wear debris added (Ra 3)</text>
<line x1="613.00" y1="227.60" x2="625.40" y2="227.60" stroke="#ff0000" stroke-width="4.2" stroke-linecap="round"/>
<text x="627.70" y="232.20" font-family='"Liberation Sans", sans-serif' font-size="13.00" font-weight="bold" text-anchor="start" >Preconditioned disc (Ra 0.2)</text>
<line x1="613.00" y1="248.50" x2="625.40" y2="248.50" stroke="#ffc000" stroke-width="4.2" stroke-linecap="round"/>
<text x="627.70" y="253.10" font-family='"Liberation Sans", sans-serif' font-size="13.00" font-weight="bold" text-anchor="start" >Preconditioned disc (Ra 1.2)</text>
<text x="740.3" y="16.9" font-family='"Liberation Sans", sans-serif' font-size="14.2" font-weight="bold">PV 7.88 MPa ms<tspan font-size="10" dy="-4">-1</tspan></text>
<text x="742.70" y="309.20" font-family='"Liberation Sans", sans-serif' font-size="18.00" font-weight="bold" text-anchor="start" >Test time (hour)</text>
<text x="544.2" y="142.6" transform="rotate(-90 544.2 142.6)" font-family='"Liberation Sans", sans-serif' font-size="18" font-weight="bold" text-anchor="middle">COF</text>
<text transform="translate(759.80 339.30) scale(0.82 1)" font-family='"Liberation Serif", serif' font-size="25.6" stroke="#000" stroke-width="0.35">(</text>
<text transform="translate(789.25 339.30) scale(0.82 1)" font-family='"Liberation Serif", serif' font-size="25.6" text-anchor="end" stroke="#000" stroke-width="0.35">)</text>
<text x="774.73" y="339.50" font-family='"Liberation Serif", serif' font-size="26" font-weight="bold" text-anchor="middle">b</text>
<line x1="72.00" y1="588.60" x2="490.60" y2="588.60" stroke="#4a4a4a" stroke-width="1.7" stroke-dasharray="3.8 3.1" stroke-dashoffset="-4.20"/>
<line x1="72.00" y1="564.50" x2="490.60" y2="564.50" stroke="#4a4a4a" stroke-width="1.7" stroke-dasharray="3.8 3.1" stroke-dashoffset="-4.20"/>
<line x1="72.00" y1="540.40" x2="490.60" y2="540.40" stroke="#4a4a4a" stroke-width="1.7" stroke-dasharray="3.8 3.1" stroke-dashoffset="-4.20"/>
<line x1="72.00" y1="516.30" x2="490.60" y2="516.30" stroke="#4a4a4a" stroke-width="1.7" stroke-dasharray="3.8 3.1" stroke-dashoffset="-4.20"/>
<line x1="72.00" y1="492.20" x2="490.60" y2="492.20" stroke="#4a4a4a" stroke-width="1.7" stroke-dasharray="3.8 3.1" stroke-dashoffset="-4.20"/>
<line x1="72.00" y1="468.10" x2="490.60" y2="468.10" stroke="#4a4a4a" stroke-width="1.7" stroke-dasharray="3.8 3.1" stroke-dashoffset="-4.20"/>
<line x1="72.00" y1="444.00" x2="490.60" y2="444.00" stroke="#4a4a4a" stroke-width="1.7" stroke-dasharray="3.8 3.1" stroke-dashoffset="-4.20"/>
<line x1="72.00" y1="419.90" x2="490.60" y2="419.90" stroke="#4a4a4a" stroke-width="1.7" stroke-dasharray="3.8 3.1" stroke-dashoffset="-4.20"/>
<line x1="72.00" y1="395.80" x2="490.60" y2="395.80" stroke="#4a4a4a" stroke-width="1.7" stroke-dasharray="3.8 3.1" stroke-dashoffset="-4.20"/>
<line x1="70.00" y1="612.70" x2="73.50" y2="612.70" stroke="#000" stroke-width="1.5"/>
<line x1="70.00" y1="607.88" x2="73.50" y2="607.88" stroke="#000" stroke-width="1.5"/>
<line x1="70.00" y1="603.06" x2="73.50" y2="603.06" stroke="#000" stroke-width="1.5"/>
<line x1="70.00" y1="598.24" x2="73.50" y2="598.24" stroke="#000" stroke-width="1.5"/>
<line x1="70.00" y1="593.42" x2="73.50" y2="593.42" stroke="#000" stroke-width="1.5"/>
<line x1="70.00" y1="588.60" x2="73.50" y2="588.60" stroke="#000" stroke-width="1.5"/>
<line x1="70.00" y1="583.78" x2="73.50" y2="583.78" stroke="#000" stroke-width="1.5"/>
<line x1="70.00" y1="578.96" x2="73.50" y2="578.96" stroke="#000" stroke-width="1.5"/>
<line x1="70.00" y1="574.14" x2="73.50" y2="574.14" stroke="#000" stroke-width="1.5"/>
<line x1="70.00" y1="569.32" x2="73.50" y2="569.32" stroke="#000" stroke-width="1.5"/>
<line x1="70.00" y1="564.50" x2="73.50" y2="564.50" stroke="#000" stroke-width="1.5"/>
<line x1="70.00" y1="559.68" x2="73.50" y2="559.68" stroke="#000" stroke-width="1.5"/>
<line x1="70.00" y1="554.86" x2="73.50" y2="554.86" stroke="#000" stroke-width="1.5"/>
<line x1="70.00" y1="550.04" x2="73.50" y2="550.04" stroke="#000" stroke-width="1.5"/>
<line x1="70.00" y1="545.22" x2="73.50" y2="545.22" stroke="#000" stroke-width="1.5"/>
<line x1="70.00" y1="540.40" x2="73.50" y2="540.40" stroke="#000" stroke-width="1.5"/>
<line x1="70.00" y1="535.58" x2="73.50" y2="535.58" stroke="#000" stroke-width="1.5"/>
<line x1="70.00" y1="530.76" x2="73.50" y2="530.76" stroke="#000" stroke-width="1.5"/>
<line x1="70.00" y1="525.94" x2="73.50" y2="525.94" stroke="#000" stroke-width="1.5"/>
<line x1="70.00" y1="521.12" x2="73.50" y2="521.12" stroke="#000" stroke-width="1.5"/>
<line x1="70.00" y1="516.30" x2="73.50" y2="516.30" stroke="#000" stroke-width="1.5"/>
<line x1="70.00" y1="511.48" x2="73.50" y2="511.48" stroke="#000" stroke-width="1.5"/>
<line x1="70.00" y1="506.66" x2="73.50" y2="506.66" stroke="#000" stroke-width="1.5"/>
<line x1="70.00" y1="501.84" x2="73.50" y2="501.84" stroke="#000" stroke-width="1.5"/>
<line x1="70.00" y1="497.02" x2="73.50" y2="497.02" stroke="#000" stroke-width="1.5"/>
<line x1="70.00" y1="492.20" x2="73.50" y2="492.20" stroke="#000" stroke-width="1.5"/>
<line x1="70.00" y1="487.38" x2="73.50" y2="487.38" stroke="#000" stroke-width="1.5"/>
<line x1="70.00" y1="482.56" x2="73.50" y2="482.56" stroke="#000" stroke-width="1.5"/>
<line x1="70.00" y1="477.74" x2="73.50" y2="477.74" stroke="#000" stroke-width="1.5"/>
<line x1="70.00" y1="472.92" x2="73.50" y2="472.92" stroke="#000" stroke-width="1.5"/>
<line x1="70.00" y1="468.10" x2="73.50" y2="468.10" stroke="#000" stroke-width="1.5"/>
<line x1="70.00" y1="463.28" x2="73.50" y2="463.28" stroke="#000" stroke-width="1.5"/>
<line x1="70.00" y1="458.46" x2="73.50" y2="458.46" stroke="#000" stroke-width="1.5"/>
<line x1="70.00" y1="453.64" x2="73.50" y2="453.64" stroke="#000" stroke-width="1.5"/>
<line x1="70.00" y1="448.82" x2="73.50" y2="448.82" stroke="#000" stroke-width="1.5"/>
<line x1="70.00" y1="444.00" x2="73.50" y2="444.00" stroke="#000" stroke-width="1.5"/>
<line x1="70.00" y1="439.18" x2="73.50" y2="439.18" stroke="#000" stroke-width="1.5"/>
<line x1="70.00" y1="434.36" x2="73.50" y2="434.36" stroke="#000" stroke-width="1.5"/>
<line x1="70.00" y1="429.54" x2="73.50" y2="429.54" stroke="#000" stroke-width="1.5"/>
<line x1="70.00" y1="424.72" x2="73.50" y2="424.72" stroke="#000" stroke-width="1.5"/>
<line x1="70.00" y1="419.90" x2="73.50" y2="419.90" stroke="#000" stroke-width="1.5"/>
<line x1="70.00" y1="415.08" x2="73.50" y2="415.08" stroke="#000" stroke-width="1.5"/>
<line x1="70.00" y1="410.26" x2="73.50" y2="410.26" stroke="#000" stroke-width="1.5"/>
<line x1="70.00" y1="405.44" x2="73.50" y2="405.44" stroke="#000" stroke-width="1.5"/>
<line x1="70.00" y1="400.62" x2="73.50" y2="400.62" stroke="#000" stroke-width="1.5"/>
<line x1="70.00" y1="395.80" x2="73.50" y2="395.80" stroke="#000" stroke-width="1.5"/>
<line x1="70.00" y1="390.98" x2="73.50" y2="390.98" stroke="#000" stroke-width="1.5"/>
<line x1="70.00" y1="386.16" x2="73.50" y2="386.16" stroke="#000" stroke-width="1.5"/>
<line x1="70.00" y1="381.34" x2="73.50" y2="381.34" stroke="#000" stroke-width="1.5"/>
<line x1="70.00" y1="376.52" x2="73.50" y2="376.52" stroke="#000" stroke-width="1.5"/>
<line x1="70.00" y1="371.70" x2="73.50" y2="371.70" stroke="#000" stroke-width="1.5"/>
<line x1="70.00" y1="612.70" x2="70.00" y2="609.50" stroke="#000" stroke-width="1.5"/>
<line x1="84.02" y1="612.70" x2="84.02" y2="610.50" stroke="#000" stroke-width="1.5"/>
<line x1="98.04" y1="612.70" x2="98.04" y2="610.50" stroke="#000" stroke-width="1.5"/>
<line x1="112.06" y1="612.70" x2="112.06" y2="610.50" stroke="#000" stroke-width="1.5"/>
<line x1="126.08" y1="612.70" x2="126.08" y2="610.50" stroke="#000" stroke-width="1.5"/>
<line x1="140.10" y1="612.70" x2="140.10" y2="609.50" stroke="#000" stroke-width="1.5"/>
<line x1="154.12" y1="612.70" x2="154.12" y2="610.50" stroke="#000" stroke-width="1.5"/>
<line x1="168.14" y1="612.70" x2="168.14" y2="610.50" stroke="#000" stroke-width="1.5"/>
<line x1="182.16" y1="612.70" x2="182.16" y2="610.50" stroke="#000" stroke-width="1.5"/>
<line x1="196.18" y1="612.70" x2="196.18" y2="610.50" stroke="#000" stroke-width="1.5"/>
<line x1="210.20" y1="612.70" x2="210.20" y2="609.50" stroke="#000" stroke-width="1.5"/>
<line x1="224.22" y1="612.70" x2="224.22" y2="610.50" stroke="#000" stroke-width="1.5"/>
<line x1="238.24" y1="612.70" x2="238.24" y2="610.50" stroke="#000" stroke-width="1.5"/>
<line x1="252.26" y1="612.70" x2="252.26" y2="610.50" stroke="#000" stroke-width="1.5"/>
<line x1="266.28" y1="612.70" x2="266.28" y2="610.50" stroke="#000" stroke-width="1.5"/>
<line x1="280.30" y1="612.70" x2="280.30" y2="609.50" stroke="#000" stroke-width="1.5"/>
<line x1="294.32" y1="612.70" x2="294.32" y2="610.50" stroke="#000" stroke-width="1.5"/>
<line x1="308.34" y1="612.70" x2="308.34" y2="610.50" stroke="#000" stroke-width="1.5"/>
<line x1="322.36" y1="612.70" x2="322.36" y2="610.50" stroke="#000" stroke-width="1.5"/>
<line x1="336.38" y1="612.70" x2="336.38" y2="610.50" stroke="#000" stroke-width="1.5"/>
<line x1="350.40" y1="612.70" x2="350.40" y2="609.50" stroke="#000" stroke-width="1.5"/>
<line x1="364.42" y1="612.70" x2="364.42" y2="610.50" stroke="#000" stroke-width="1.5"/>
<line x1="378.44" y1="612.70" x2="378.44" y2="610.50" stroke="#000" stroke-width="1.5"/>
<line x1="392.46" y1="612.70" x2="392.46" y2="610.50" stroke="#000" stroke-width="1.5"/>
<line x1="406.48" y1="612.70" x2="406.48" y2="610.50" stroke="#000" stroke-width="1.5"/>
<line x1="420.50" y1="612.70" x2="420.50" y2="609.50" stroke="#000" stroke-width="1.5"/>
<line x1="434.52" y1="612.70" x2="434.52" y2="610.50" stroke="#000" stroke-width="1.5"/>
<line x1="448.54" y1="612.70" x2="448.54" y2="610.50" stroke="#000" stroke-width="1.5"/>
<line x1="462.56" y1="612.70" x2="462.56" y2="610.50" stroke="#000" stroke-width="1.5"/>
<line x1="476.58" y1="612.70" x2="476.58" y2="610.50" stroke="#000" stroke-width="1.5"/>
<line x1="490.60" y1="612.70" x2="490.60" y2="609.50" stroke="#000" stroke-width="1.5"/>
<path d="M70.00,451.10 C70.33,450.32 71.17,447.47 72.00,446.40 C72.83,445.33 74.02,444.70 75.00,444.70 C75.98,444.70 76.63,444.95 77.90,446.40 C79.17,447.85 80.85,450.67 82.60,453.40 C84.35,456.13 86.45,459.67 88.40,462.80 C90.35,465.93 92.33,469.47 94.30,472.20 C96.27,474.93 97.67,477.25 100.20,479.20 C102.73,481.15 105.98,482.72 109.50,483.90 C113.02,485.08 117.38,486.30 121.30,486.30 C125.22,486.30 128.70,484.68 133.00,483.90 C137.30,483.12 142.22,482.47 147.10,481.60 C151.98,480.73 158.02,479.05 162.30,478.70 C166.58,478.35 169.02,479.60 172.80,479.50 C176.58,479.40 180.87,478.53 185.00,478.10 C189.13,477.67 192.57,477.20 197.60,476.90 C202.63,476.60 209.33,476.88 215.20,476.30 C221.07,475.72 226.95,473.88 232.80,473.40 C238.65,472.92 244.45,473.50 250.30,473.40 C256.15,473.30 262.03,472.62 267.90,472.80 C273.77,472.98 280.15,474.70 285.50,474.50 C290.85,474.30 294.12,472.08 300.00,471.60 C305.88,471.12 313.82,472.23 320.80,471.60 C327.78,470.97 332.53,468.88 341.90,467.80 C351.27,466.72 367.23,465.45 377.00,465.10 C386.77,464.75 394.32,466.03 400.50,465.70 C406.68,465.37 407.62,463.68 414.10,463.10 C420.58,462.52 430.82,461.97 439.40,462.20 C447.98,462.43 459.67,464.35 465.60,464.50 C471.53,464.65 470.93,463.10 475.00,463.10 C479.07,463.10 487.50,464.27 490.00,464.50" fill="none" stroke="#0000ff" stroke-width="4.20" stroke-linecap="round" stroke-linejoin="round"/>
<path d="M72.00,452.00 C72.58,453.02 74.13,455.32 75.50,458.10 C76.87,460.88 78.43,465.18 80.20,468.70 C81.97,472.22 84.13,476.08 86.10,479.20 C88.07,482.32 89.85,485.05 92.00,487.40 C94.15,489.75 96.85,492.32 99.00,493.30 C101.15,494.28 102.75,493.78 104.90,493.30 C107.05,492.82 109.57,491.08 111.90,490.40 C114.23,489.72 115.00,489.02 118.90,489.20 C122.80,489.38 129.63,490.82 135.30,491.50 C140.97,492.18 147.42,492.12 152.90,493.30 C158.38,494.48 162.85,497.32 168.20,498.60 C173.55,499.88 179.70,500.27 185.00,501.00 C190.30,501.73 194.97,502.50 200.00,503.00 C205.03,503.50 207.78,504.25 215.20,504.00 C222.62,503.75 234.73,501.62 244.50,501.50 C254.27,501.38 266.22,502.58 273.80,503.30 C281.38,504.02 283.40,504.77 290.00,505.80 C296.60,506.83 305.98,509.12 313.40,509.50 C320.82,509.88 328.23,508.03 334.50,508.10 C340.77,508.17 344.75,508.62 351.00,509.90 C357.25,511.18 365.57,514.53 372.00,515.80 C378.43,517.07 384.93,516.93 389.60,517.50 C394.27,518.07 395.15,518.45 400.00,519.20 C404.85,519.95 413.23,521.58 418.70,522.00 C424.17,522.42 426.55,521.23 432.80,521.70 C439.05,522.17 449.17,524.17 456.20,524.80 C463.23,525.43 469.37,524.95 475.00,525.50 C480.63,526.05 487.50,527.67 490.00,528.10" fill="none" stroke="#00b050" stroke-width="4.20" stroke-linecap="round" stroke-linejoin="round"/>
<path d="M70.00,462.80 C70.73,461.63 72.70,457.95 74.40,455.80 C76.10,453.65 78.45,450.78 80.20,449.90 C81.95,449.02 83.13,449.52 84.90,450.50 C86.67,451.48 88.65,453.35 90.80,455.80 C92.95,458.25 95.45,463.05 97.80,465.20 C100.15,467.35 100.98,468.32 104.90,468.70 C108.82,469.08 115.25,467.60 121.30,467.50 C127.35,467.40 135.35,468.88 141.20,468.10 C147.05,467.32 151.52,464.37 156.40,462.80 C161.28,461.23 165.73,459.73 170.50,458.70 C175.27,457.67 181.07,457.02 185.00,456.60 C188.93,456.18 190.63,456.25 194.10,456.20 C197.57,456.15 200.33,456.85 205.80,456.30 C211.27,455.75 219.48,454.07 226.90,452.90 C234.32,451.73 242.48,450.18 250.30,449.30 C258.12,448.42 266.95,448.28 273.80,447.60 C280.65,446.92 287.03,445.65 291.40,445.20 C295.77,444.75 293.53,445.28 300.00,444.90 C306.47,444.52 321.65,443.83 330.20,442.90 C338.75,441.97 343.50,440.28 351.30,439.30 C359.10,438.32 371.15,437.58 377.00,437.00 C382.85,436.42 382.08,436.15 386.40,435.80 C390.72,435.45 399.07,434.95 402.90,434.90 C406.73,434.85 405.20,435.95 409.40,435.50 C413.60,435.05 421.85,432.67 428.10,432.20 C434.35,431.73 440.97,432.87 446.90,432.70 C452.83,432.53 458.23,430.85 463.70,431.20 C469.17,431.55 475.63,434.40 479.70,434.80 C483.77,435.20 486.38,433.72 488.10,433.60 C489.82,433.48 489.68,434.02 490.00,434.10" fill="none" stroke="#ff0000" stroke-width="4.20" stroke-linecap="round" stroke-linejoin="round"/>
<path d="M70.00,459.30 C70.33,458.52 70.88,455.67 72.00,454.60 C73.12,453.53 74.73,452.80 76.70,452.90 C78.67,453.00 81.45,453.73 83.80,455.20 C86.15,456.67 88.07,459.25 90.80,461.70 C93.53,464.15 96.68,467.85 100.20,469.90 C103.72,471.95 108.00,473.13 111.90,474.00 C115.80,474.87 119.30,475.20 123.60,475.10 C127.90,475.00 131.83,474.47 137.70,473.40 C143.57,472.33 152.35,469.97 158.80,468.70 C165.25,467.43 172.03,466.48 176.40,465.80 C180.77,465.12 180.50,465.10 185.00,464.60 C189.50,464.10 196.42,463.58 203.40,462.80 C210.38,462.02 219.08,460.87 226.90,459.90 C234.72,458.93 242.48,457.72 250.30,457.00 C258.12,456.28 267.53,455.70 273.80,455.60 C280.07,455.50 283.53,456.75 287.90,456.40 C292.27,456.05 294.92,454.48 300.00,453.50 C305.08,452.52 310.43,451.78 318.40,450.50 C326.37,449.22 337.05,447.27 347.80,445.80 C358.55,444.33 374.20,442.57 382.90,441.70 C391.60,440.83 393.25,440.93 400.00,440.60 C406.75,440.27 417.93,440.17 423.40,439.70 C428.87,439.23 429.37,438.58 432.80,437.80 C436.23,437.02 440.10,435.23 444.00,435.00 C447.90,434.77 451.03,435.70 456.20,436.40 C461.37,437.10 469.37,438.97 475.00,439.20 C480.63,439.43 487.50,438.03 490.00,437.80" fill="none" stroke="#ffc000" stroke-width="4.20" stroke-linecap="round" stroke-linejoin="round"/>
<rect x="70.00" y="371.70" width="420.60" height="241.00" fill="none" stroke="#000" stroke-width="2.1"/>
<text x="57.20" y="617.70" font-family='"Liberation Sans", sans-serif' font-size="14.00" font-weight="bold" text-anchor="end" >0,00</text>
<text x="57.20" y="593.60" font-family='"Liberation Sans", sans-serif' font-size="14.00" font-weight="bold" text-anchor="end" >0,05</text>
<text x="57.20" y="569.50" font-family='"Liberation Sans", sans-serif' font-size="14.00" font-weight="bold" text-anchor="end" >0,10</text>
<text x="57.20" y="545.40" font-family='"Liberation Sans", sans-serif' font-size="14.00" font-weight="bold" text-anchor="end" >0,15</text>
<text x="57.20" y="521.30" font-family='"Liberation Sans", sans-serif' font-size="14.00" font-weight="bold" text-anchor="end" >0,20</text>
<text x="57.20" y="497.20" font-family='"Liberation Sans", sans-serif' font-size="14.00" font-weight="bold" text-anchor="end" >0,25</text>
<text x="57.20" y="473.10" font-family='"Liberation Sans", sans-serif' font-size="14.00" font-weight="bold" text-anchor="end" >0,30</text>
<text x="57.20" y="449.00" font-family='"Liberation Sans", sans-serif' font-size="14.00" font-weight="bold" text-anchor="end" >0,35</text>
<text x="57.20" y="424.90" font-family='"Liberation Sans", sans-serif' font-size="14.00" font-weight="bold" text-anchor="end" >0,40</text>
<text x="57.20" y="400.80" font-family='"Liberation Sans", sans-serif' font-size="14.00" font-weight="bold" text-anchor="end" >0,45</text>
<text x="57.20" y="376.70" font-family='"Liberation Sans", sans-serif' font-size="14.00" font-weight="bold" text-anchor="end" >0,50</text>
<text x="70.00" y="634.60" font-family='"Liberation Sans", sans-serif' font-size="14.00" font-weight="bold" text-anchor="middle" >0</text>
<text x="140.10" y="634.60" font-family='"Liberation Sans", sans-serif' font-size="14.00" font-weight="bold" text-anchor="middle" >0,5</text>
<text x="210.20" y="634.60" font-family='"Liberation Sans", sans-serif' font-size="14.00" font-weight="bold" text-anchor="middle" >1</text>
<text x="280.30" y="634.60" font-family='"Liberation Sans", sans-serif' font-size="14.00" font-weight="bold" text-anchor="middle" >1,5</text>
<text x="350.40" y="634.60" font-family='"Liberation Sans", sans-serif' font-size="14.00" font-weight="bold" text-anchor="middle" >2</text>
<text x="420.50" y="634.60" font-family='"Liberation Sans", sans-serif' font-size="14.00" font-weight="bold" text-anchor="middle" >2,5</text>
<text x="490.60" y="634.60" font-family='"Liberation Sans", sans-serif' font-size="14.00" font-weight="bold" text-anchor="middle" >3</text>
<rect x="84.30" y="522.00" width="197.30" height="81.50" fill="#fff" stroke="#000" stroke-width="2.1"/>
<line x1="87.50" y1="531.80" x2="99.90" y2="531.80" stroke="#0000ff" stroke-width="4.2" stroke-linecap="round"/>
<text x="102.20" y="536.40" font-family='"Liberation Sans", sans-serif' font-size="13.00" font-weight="bold" text-anchor="start" >Standard test (Ra 3)</text>
<line x1="87.50" y1="552.40" x2="99.90" y2="552.40" stroke="#00b050" stroke-width="4.2" stroke-linecap="round"/>
<text x="102.20" y="557.00" font-family='"Liberation Sans", sans-serif' font-size="13.00" font-weight="bold" text-anchor="start" >Wear debris added (Ra 3)</text>
<line x1="87.50" y1="573.00" x2="99.90" y2="573.00" stroke="#ff0000" stroke-width="4.2" stroke-linecap="round"/>
<text x="102.20" y="577.60" font-family='"Liberation Sans", sans-serif' font-size="13.00" font-weight="bold" text-anchor="start" >Preconditioned disc (Ra 0.2)</text>
<line x1="87.50" y1="593.60" x2="99.90" y2="593.60" stroke="#ffc000" stroke-width="4.2" stroke-linecap="round"/>
<text x="102.20" y="598.20" font-family='"Liberation Sans", sans-serif' font-size="13.00" font-weight="bold" text-anchor="start" >Preconditioned disc (Ra 1.2)</text>
<text transform="translate(216.5 363.3) scale(0.968 1)" font-family='"Liberation Sans", sans-serif' font-size="16.1" font-weight="normal" stroke="#000" stroke-width="0.6">PV 10.09 MPa ms<tspan font-size="11.5" font-weight="bold" dy="-4.4" stroke-width="0">-1</tspan></text>
<text x="214.80" y="653.60" font-family='"Liberation Sans", sans-serif' font-size="18.00" font-weight="bold" text-anchor="start" >Test time (hour)</text>
<text x="20.1" y="503.3" transform="rotate(-90 20.1 503.3)" font-family='"Liberation Sans", sans-serif' font-size="18" font-weight="bold" text-anchor="middle">COF</text>
<text transform="translate(237.80 683.65) scale(0.82 1)" font-family='"Liberation Serif", serif' font-size="25.6" stroke="#000" stroke-width="0.35">(</text>
<text transform="translate(263.80 683.65) scale(0.82 1)" font-family='"Liberation Serif", serif' font-size="25.6" text-anchor="end" stroke="#000" stroke-width="0.35">)</text>
<text x="251.00" y="683.85" font-family='"Liberation Serif", serif' font-size="26" font-weight="bold" text-anchor="middle">c</text>
<line x1="610.20" y1="567.16" x2="1003.60" y2="567.16" stroke="#555" stroke-width="1.6" stroke-dasharray="3.8 3.1" stroke-dashoffset="-3.8"/>
<line x1="610.20" y1="532.31" x2="1003.60" y2="532.31" stroke="#555" stroke-width="1.6" stroke-dasharray="3.8 3.1" stroke-dashoffset="-3.8"/>
<line x1="610.20" y1="497.47" x2="1003.60" y2="497.47" stroke="#555" stroke-width="1.6" stroke-dasharray="3.8 3.1" stroke-dashoffset="-3.8"/>
<line x1="610.20" y1="462.63" x2="1003.60" y2="462.63" stroke="#555" stroke-width="1.6" stroke-dasharray="3.8 3.1" stroke-dashoffset="-3.8"/>
<line x1="610.20" y1="427.79" x2="1003.60" y2="427.79" stroke="#555" stroke-width="1.6" stroke-dasharray="3.8 3.1" stroke-dashoffset="-3.8"/>
<line x1="610.20" y1="392.94" x2="1003.60" y2="392.94" stroke="#555" stroke-width="1.6" stroke-dasharray="3.8 3.1" stroke-dashoffset="-3.8"/>
<line x1="608.20" y1="602.00" x2="612.00" y2="602.00" stroke="#000" stroke-width="1.5"/>
<line x1="608.20" y1="595.03" x2="612.00" y2="595.03" stroke="#000" stroke-width="1.5"/>
<line x1="608.20" y1="588.06" x2="612.00" y2="588.06" stroke="#000" stroke-width="1.5"/>
<line x1="608.20" y1="581.09" x2="612.00" y2="581.09" stroke="#000" stroke-width="1.5"/>
<line x1="608.20" y1="574.13" x2="612.00" y2="574.13" stroke="#000" stroke-width="1.5"/>
<line x1="608.20" y1="567.16" x2="612.00" y2="567.16" stroke="#000" stroke-width="1.5"/>
<line x1="608.20" y1="560.19" x2="612.00" y2="560.19" stroke="#000" stroke-width="1.5"/>
<line x1="608.20" y1="553.22" x2="612.00" y2="553.22" stroke="#000" stroke-width="1.5"/>
<line x1="608.20" y1="546.25" x2="612.00" y2="546.25" stroke="#000" stroke-width="1.5"/>
<line x1="608.20" y1="539.28" x2="612.00" y2="539.28" stroke="#000" stroke-width="1.5"/>
<line x1="608.20" y1="532.31" x2="612.00" y2="532.31" stroke="#000" stroke-width="1.5"/>
<line x1="608.20" y1="525.35" x2="612.00" y2="525.35" stroke="#000" stroke-width="1.5"/>
<line x1="608.20" y1="518.38" x2="612.00" y2="518.38" stroke="#000" stroke-width="1.5"/>
<line x1="608.20" y1="511.41" x2="612.00" y2="511.41" stroke="#000" stroke-width="1.5"/>
<line x1="608.20" y1="504.44" x2="612.00" y2="504.44" stroke="#000" stroke-width="1.5"/>
<line x1="608.20" y1="497.47" x2="612.00" y2="497.47" stroke="#000" stroke-width="1.5"/>
<line x1="608.20" y1="490.50" x2="612.00" y2="490.50" stroke="#000" stroke-width="1.5"/>
<line x1="608.20" y1="483.53" x2="612.00" y2="483.53" stroke="#000" stroke-width="1.5"/>
<line x1="608.20" y1="476.57" x2="612.00" y2="476.57" stroke="#000" stroke-width="1.5"/>
<line x1="608.20" y1="469.60" x2="612.00" y2="469.60" stroke="#000" stroke-width="1.5"/>
<line x1="608.20" y1="462.63" x2="612.00" y2="462.63" stroke="#000" stroke-width="1.5"/>
<line x1="608.20" y1="455.66" x2="612.00" y2="455.66" stroke="#000" stroke-width="1.5"/>
<line x1="608.20" y1="448.69" x2="612.00" y2="448.69" stroke="#000" stroke-width="1.5"/>
<line x1="608.20" y1="441.72" x2="612.00" y2="441.72" stroke="#000" stroke-width="1.5"/>
<line x1="608.20" y1="434.75" x2="612.00" y2="434.75" stroke="#000" stroke-width="1.5"/>
<line x1="608.20" y1="427.79" x2="612.00" y2="427.79" stroke="#000" stroke-width="1.5"/>
<line x1="608.20" y1="420.82" x2="612.00" y2="420.82" stroke="#000" stroke-width="1.5"/>
<line x1="608.20" y1="413.85" x2="612.00" y2="413.85" stroke="#000" stroke-width="1.5"/>
<line x1="608.20" y1="406.88" x2="612.00" y2="406.88" stroke="#000" stroke-width="1.5"/>
<line x1="608.20" y1="399.91" x2="612.00" y2="399.91" stroke="#000" stroke-width="1.5"/>
<line x1="608.20" y1="392.94" x2="612.00" y2="392.94" stroke="#000" stroke-width="1.5"/>
<line x1="608.20" y1="385.97" x2="612.00" y2="385.97" stroke="#000" stroke-width="1.5"/>
<line x1="608.20" y1="379.01" x2="612.00" y2="379.01" stroke="#000" stroke-width="1.5"/>
<line x1="608.20" y1="372.04" x2="612.00" y2="372.04" stroke="#000" stroke-width="1.5"/>
<line x1="608.20" y1="365.07" x2="612.00" y2="365.07" stroke="#000" stroke-width="1.5"/>
<line x1="608.20" y1="358.10" x2="612.00" y2="358.10" stroke="#000" stroke-width="1.5"/>
<line x1="608.20" y1="602.00" x2="608.20" y2="598.60" stroke="#000" stroke-width="1.5"/>
<line x1="624.02" y1="602.00" x2="624.02" y2="599.00" stroke="#000" stroke-width="1.5"/>
<line x1="639.83" y1="602.00" x2="639.83" y2="599.00" stroke="#000" stroke-width="1.5"/>
<line x1="655.65" y1="602.00" x2="655.65" y2="599.00" stroke="#000" stroke-width="1.5"/>
<line x1="671.46" y1="602.00" x2="671.46" y2="599.00" stroke="#000" stroke-width="1.5"/>
<line x1="687.28" y1="602.00" x2="687.28" y2="598.60" stroke="#000" stroke-width="1.5"/>
<line x1="703.10" y1="602.00" x2="703.10" y2="599.00" stroke="#000" stroke-width="1.5"/>
<line x1="718.91" y1="602.00" x2="718.91" y2="599.00" stroke="#000" stroke-width="1.5"/>
<line x1="734.73" y1="602.00" x2="734.73" y2="599.00" stroke="#000" stroke-width="1.5"/>
<line x1="750.54" y1="602.00" x2="750.54" y2="599.00" stroke="#000" stroke-width="1.5"/>
<line x1="766.36" y1="602.00" x2="766.36" y2="598.60" stroke="#000" stroke-width="1.5"/>
<line x1="782.18" y1="602.00" x2="782.18" y2="599.00" stroke="#000" stroke-width="1.5"/>
<line x1="797.99" y1="602.00" x2="797.99" y2="599.00" stroke="#000" stroke-width="1.5"/>
<line x1="813.81" y1="602.00" x2="813.81" y2="599.00" stroke="#000" stroke-width="1.5"/>
<line x1="829.62" y1="602.00" x2="829.62" y2="599.00" stroke="#000" stroke-width="1.5"/>
<line x1="845.44" y1="602.00" x2="845.44" y2="598.60" stroke="#000" stroke-width="1.5"/>
<line x1="861.26" y1="602.00" x2="861.26" y2="599.00" stroke="#000" stroke-width="1.5"/>
<line x1="877.07" y1="602.00" x2="877.07" y2="599.00" stroke="#000" stroke-width="1.5"/>
<line x1="892.89" y1="602.00" x2="892.89" y2="599.00" stroke="#000" stroke-width="1.5"/>
<line x1="908.70" y1="602.00" x2="908.70" y2="599.00" stroke="#000" stroke-width="1.5"/>
<line x1="924.52" y1="602.00" x2="924.52" y2="598.60" stroke="#000" stroke-width="1.5"/>
<line x1="940.34" y1="602.00" x2="940.34" y2="599.00" stroke="#000" stroke-width="1.5"/>
<line x1="956.15" y1="602.00" x2="956.15" y2="599.00" stroke="#000" stroke-width="1.5"/>
<line x1="971.97" y1="602.00" x2="971.97" y2="599.00" stroke="#000" stroke-width="1.5"/>
<line x1="987.78" y1="602.00" x2="987.78" y2="599.00" stroke="#000" stroke-width="1.5"/>
<line x1="1003.60" y1="602.00" x2="1003.60" y2="598.60" stroke="#000" stroke-width="1.5"/>
<line x1="620.60" y1="560.00" x2="699.20" y2="560.00" stroke="#009a00" stroke-width="2.6" stroke-linecap="square"/>
<line x1="659.50" y1="553.20" x2="659.50" y2="567.40" stroke="#009a00" stroke-width="2.6" stroke-linecap="square"/>
<circle cx="659.50" cy="560.10" r="5.45" fill="#80cc80" stroke="#009a00" stroke-width="2"/>
<line x1="666.30" y1="422.80" x2="692.50" y2="422.80" stroke="#0000ff" stroke-width="2.6" stroke-linecap="square"/>
<line x1="679.20" y1="414.70" x2="679.20" y2="431.40" stroke="#0000ff" stroke-width="2.6" stroke-linecap="square"/>
<circle cx="679.20" cy="422.80" r="4.80" fill="#8080ff" stroke="#0000ff" stroke-width="2"/>
<line x1="681.40" y1="429.60" x2="713.70" y2="429.60" stroke="#ffc000" stroke-width="2.6" stroke-linecap="square"/>
<line x1="697.10" y1="416.80" x2="697.10" y2="442.50" stroke="#ffc000" stroke-width="2.6" stroke-linecap="square"/>
<circle cx="697.10" cy="429.60" r="5.50" fill="#ffdf80" stroke="#ffc000" stroke-width="2"/>
<line x1="705.00" y1="414.70" x2="716.00" y2="414.70" stroke="#ff0000" stroke-width="2.6" stroke-linecap="square"/>
<line x1="710.70" y1="404.10" x2="710.70" y2="426.40" stroke="#ff0000" stroke-width="2.6" stroke-linecap="square"/>
<circle cx="710.70" cy="414.70" r="5.60" fill="#ff8080" stroke="#ff0000" stroke-width="2"/>
<line x1="773.70" y1="526.10" x2="836.10" y2="526.10" stroke="#009a00" stroke-width="2.6" stroke-linecap="square"/>
<line x1="804.90" y1="507.60" x2="804.90" y2="542.90" stroke="#009a00" stroke-width="2.6" stroke-linecap="square"/>
<rect x="799.90" y="521.10" width="10.00" height="10.00" fill="#80cc80" stroke="#009a00" stroke-width="2"/>
<line x1="838.10" y1="469.00" x2="851.80" y2="469.00" stroke="#0000ff" stroke-width="2.6" stroke-linecap="square"/>
<line x1="844.60" y1="457.40" x2="844.60" y2="480.70" stroke="#0000ff" stroke-width="2.6" stroke-linecap="square"/>
<rect x="840.10" y="464.50" width="9.00" height="9.00" fill="#8080ff" stroke="#0000ff" stroke-width="2"/>
<line x1="833.30" y1="479.00" x2="888.80" y2="479.00" stroke="#ffc000" stroke-width="2.6" stroke-linecap="square"/>
<line x1="861.30" y1="468.40" x2="861.30" y2="489.60" stroke="#ffc000" stroke-width="2.6" stroke-linecap="square"/>
<rect x="855.80" y="473.50" width="11.00" height="11.00" fill="#ffdf80" stroke="#ffc000" stroke-width="2"/>
<line x1="863.40" y1="455.70" x2="932.30" y2="455.70" stroke="#ff0000" stroke-width="2.6" stroke-linecap="square"/>
<line x1="897.70" y1="446.20" x2="897.70" y2="466.10" stroke="#ff0000" stroke-width="2.6" stroke-linecap="square"/>
<rect x="892.20" y="450.20" width="11.00" height="11.00" fill="#ff8080" stroke="#ff0000" stroke-width="2"/>
<line x1="765.70" y1="558.30" x2="835.70" y2="558.30" stroke="#009a00" stroke-width="2.6" stroke-linecap="square"/>
<line x1="801.30" y1="536.10" x2="801.30" y2="580.30" stroke="#009a00" stroke-width="2.6" stroke-linecap="square"/>
<path d="M801.30,556.40 L806.70,563.40 L796.30,563.40 Z" fill="#80cc80" stroke="#009a00" stroke-width="2" stroke-linejoin="miter"/>
<line x1="954.70" y1="465.20" x2="985.00" y2="465.20" stroke="#ff0000" stroke-width="2.6" stroke-linecap="square"/>
<line x1="969.80" y1="458.10" x2="969.80" y2="473.10" stroke="#ff0000" stroke-width="2.6" stroke-linecap="square"/>
<path d="M969.80,462.90 L975.60,470.80 L964.70,470.80 Z" fill="#ff8080" stroke="#ff0000" stroke-width="2" stroke-linejoin="miter"/>
<line x1="948.90" y1="476.70" x2="972.90" y2="476.70" stroke="#ffc000" stroke-width="2.6" stroke-linecap="square"/>
<line x1="961.00" y1="468.10" x2="961.00" y2="485.20" stroke="#ffc000" stroke-width="2.6" stroke-linecap="square"/>
<path d="M961.00,473.30 L966.30,482.30 L955.70,482.30 Z" fill="#ffdf80" stroke="#ffc000" stroke-width="2" stroke-linejoin="miter"/>
<line x1="943.50" y1="501.00" x2="961.90" y2="501.00" stroke="#0000ff" stroke-width="2.6" stroke-linecap="square"/>
<line x1="952.70" y1="494.30" x2="952.70" y2="508.30" stroke="#0000ff" stroke-width="2.6" stroke-linecap="square"/>
<path d="M952.70,496.30 L958.20,506.00 L947.40,506.00 Z" fill="#8080ff" stroke="#0000ff" stroke-width="2" stroke-linejoin="miter"/>
<rect x="608.20" y="358.10" width="395.40" height="243.90" fill="none" stroke="#000" stroke-width="2.1"/>
<text x="591.10" y="607.60" font-family='"Liberation Sans", sans-serif' font-size="18.00" font-weight="bold" text-anchor="end" >0,15</text>
<text x="591.10" y="572.76" font-family='"Liberation Sans", sans-serif' font-size="18.00" font-weight="bold" text-anchor="end" >0,20</text>
<text x="591.10" y="537.91" font-family='"Liberation Sans", sans-serif' font-size="18.00" font-weight="bold" text-anchor="end" >0,25</text>
<text x="591.10" y="503.07" font-family='"Liberation Sans", sans-serif' font-size="18.00" font-weight="bold" text-anchor="end" >0,30</text>
<text x="591.10" y="468.23" font-family='"Liberation Sans", sans-serif' font-size="18.00" font-weight="bold" text-anchor="end" >0,35</text>
<text x="591.10" y="433.39" font-family='"Liberation Sans", sans-serif' font-size="18.00" font-weight="bold" text-anchor="end" >0,40</text>
<text x="591.10" y="398.54" font-family='"Liberation Sans", sans-serif' font-size="18.00" font-weight="bold" text-anchor="end" >0,45</text>
<text x="591.10" y="363.70" font-family='"Liberation Sans", sans-serif' font-size="18.00" font-weight="bold" text-anchor="end" >0,50</text>
<text x="608.20" y="629.70" font-family='"Liberation Sans", sans-serif' font-size="18.00" font-weight="bold" text-anchor="middle" >100</text>
<text x="687.28" y="629.70" font-family='"Liberation Sans", sans-serif' font-size="18.00" font-weight="bold" text-anchor="middle" >150</text>
<text x="766.36" y="629.70" font-family='"Liberation Sans", sans-serif' font-size="18.00" font-weight="bold" text-anchor="middle" >200</text>
<text x="845.44" y="629.70" font-family='"Liberation Sans", sans-serif' font-size="18.00" font-weight="bold" text-anchor="middle" >250</text>
<text x="924.52" y="629.70" font-family='"Liberation Sans", sans-serif' font-size="18.00" font-weight="bold" text-anchor="middle" >300</text>
<text x="1003.60" y="629.70" font-family='"Liberation Sans", sans-serif' font-size="18.00" font-weight="bold" text-anchor="middle" >350</text>
<rect x="821.0" y="362.8" width="177.2" height="64.9" fill="#fff" stroke="#000" stroke-width="2.1"/>
<circle cx="829.3" cy="370.60" r="3.5" fill="#8080ff" stroke="#0000ff" stroke-width="2.3"/>
<text x="835.20" y="374.90" font-family='"Liberation Sans", sans-serif' font-size="11.80" font-weight="bold" text-anchor="start" >Standard test (Ra 3)</text>
<circle cx="829.3" cy="386.90" r="3.5" fill="#80cc80" stroke="#009a00" stroke-width="2.3"/>
<text x="835.20" y="391.20" font-family='"Liberation Sans", sans-serif' font-size="11.80" font-weight="bold" text-anchor="start" >Wear debris added (Ra 3)</text>
<circle cx="829.3" cy="403.20" r="3.5" fill="#ff8080" stroke="#ff0000" stroke-width="2.3"/>
<text x="835.20" y="407.50" font-family='"Liberation Sans", sans-serif' font-size="11.80" font-weight="bold" text-anchor="start" >Preconditioned disc (Ra 0.2)</text>
<circle cx="829.3" cy="419.50" r="3.5" fill="#ffdf80" stroke="#ffc000" stroke-width="2.3"/>
<text x="835.20" y="423.80" font-family='"Liberation Sans", sans-serif' font-size="11.80" font-weight="bold" text-anchor="start" >Preconditioned disc (Ra 1.2)</text>
<rect x="630.9" y="466.2" width="128" height="61.5" fill="#fff" stroke="#000" stroke-width="2.1"/>
<circle cx="643.3" cy="481.2" r="5.6" fill="#fff" stroke="#000" stroke-width="1.8"/>
<rect x="638.0" y="492.4" width="10.6" height="10.6" fill="#fff" stroke="#000" stroke-width="1.8"/>
<path d="M643.3,507.8 L649.2,518.6 L637.4,518.6 Z" fill="#fff" stroke="#000" stroke-width="1.8" stroke-linejoin="miter"/>
<text x="654.9" y="486.30" font-family='"Liberation Sans", sans-serif' font-size="13" font-weight="bold">3.08 MPa ms<tspan font-size="9" dy="-4">-1</tspan></text>
<text x="654.9" y="501.20" font-family='"Liberation Sans", sans-serif' font-size="13" font-weight="bold">7.88 MPa ms<tspan font-size="9" dy="-4">-1</tspan></text>
<text x="654.9" y="516.10" font-family='"Liberation Sans", sans-serif' font-size="13" font-weight="bold">10.09 MPa ms<tspan font-size="9" dy="-4">-1</tspan></text>
<text x="719.00" y="653.40" font-family='"Liberation Sans", sans-serif' font-size="18.00" font-weight="bold" text-anchor="start" >Test temperature (°C)</text>
<text x="544" y="480.25" transform="rotate(-90 544 480.25)" font-family='"Liberation Sans", sans-serif' font-size="19" font-weight="normal" stroke="#000" stroke-width="0.35" text-anchor="middle">Average COF</text>
<text transform="translate(758.10 683.50) scale(0.82 1)" font-family='"Liberation Serif", serif' font-size="25.6" stroke="#000" stroke-width="0.35">(</text>
<text transform="translate(790.30 683.50) scale(0.82 1)" font-family='"Liberation Serif", serif' font-size="25.6" text-anchor="end" stroke="#000" stroke-width="0.35">)</text>
<text x="774.40" y="683.70" font-family='"Liberation Serif", serif' font-size="26" font-weight="bold" text-anchor="middle">d</text>
</svg></body></html>
